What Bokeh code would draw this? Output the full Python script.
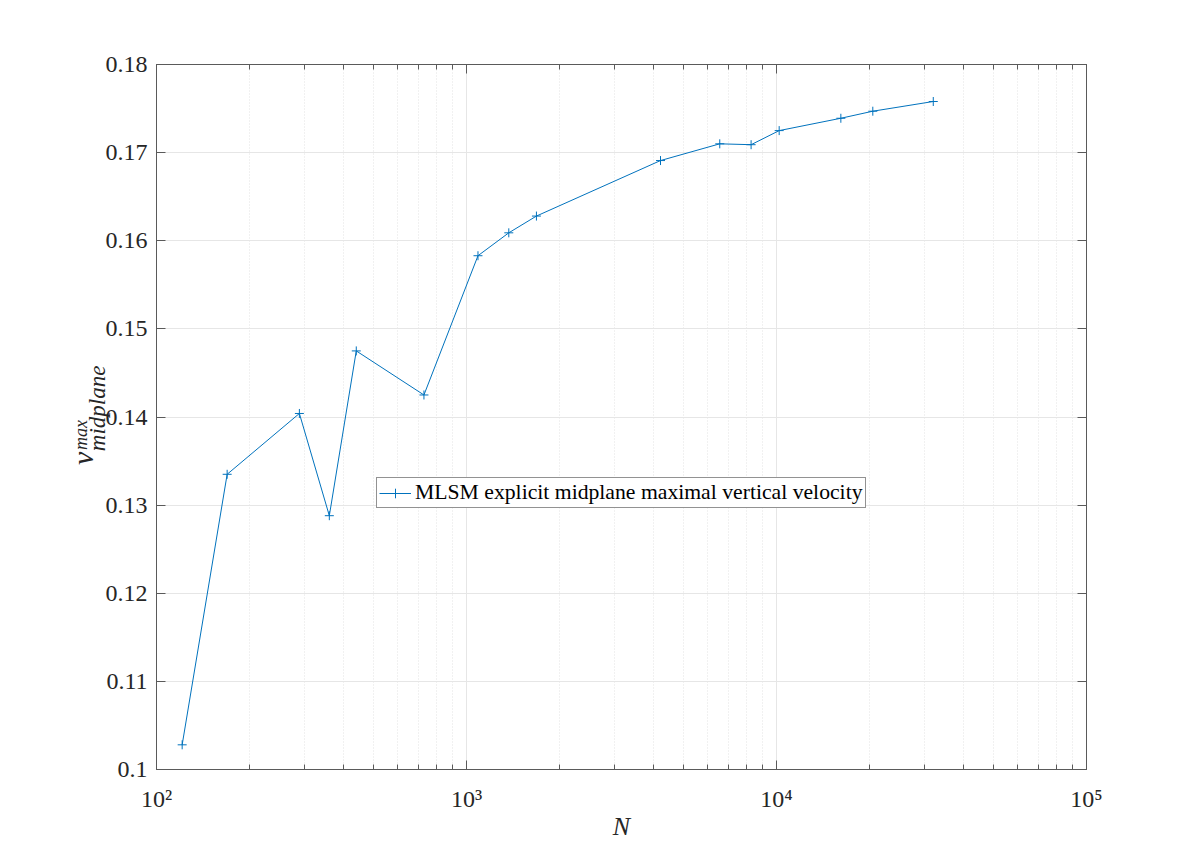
import math
from bokeh.plotting import figure
from bokeh.models import FixedTicker, LinearAxis, LogAxis, Range1d
from bokeh.embed import file_html
from bokeh.resources import INLINE

# ---- data ----
N = [121, 169, 289, 361, 441, 729, 1089, 1369, 1681, 4225, 6561, 8281, 10201, 16129, 20449, 32041]
V = [0.1028, 0.1335, 0.1404, 0.1288, 0.1475, 0.1425, 0.1583, 0.1609, 0.1628,
     0.1691, 0.1710, 0.1709, 0.1725, 0.1739, 0.1747, 0.1758]
series_name = "MLSM explicit midplane maximal vertical velocity"
x_major = [100, 1000, 10000, 100000]
x_labels = {100: "10²", 1000: "10³", 10000: "10⁴", 100000: "10⁵"}
y_major = [0.10, 0.11, 0.12, 0.13, 0.14, 0.15, 0.16, 0.17, 0.18]
y_labels = ["0.1", "0.11", "0.12", "0.13", "0.14", "0.15", "0.16", "0.17", "0.18"]
y_label_base, y_label_sup, y_label_sub = "v", "max", "midplane"

x_minor = [m * d for d in (100, 1000, 10000) for m in range(2, 10)]

BLUE = "#0072BD"
AX = "#262626"
FONT = "Liberation Serif"
NB = "\u00a0"

W, H = 1184, 848
ML, MT = 156, 64
MR = W - 1086
MB = H - 769

p = figure(width=W, height=H, x_axis_type="log", output_backend="svg",
           toolbar_location=None, x_range=Range1d(100, 100000),
           y_range=Range1d(0.1, 0.18),
           min_border_left=ML, min_border_right=MR, min_border_top=MT, min_border_bottom=MB)
p.background_fill_color = "white"
p.border_fill_color = "white"
p.outline_line_color = "#5a5a5a"
p.outline_line_width = 1

xt = FixedTicker(ticks=x_major, minor_ticks=x_minor)
yt = FixedTicker(ticks=y_major)

def style_axis(ax, labels=True):
    ax.axis_line_color = "#5a5a5a"
    ax.axis_line_width = 1
    ax.major_tick_line_color = "#5a5a5a"
    ax.minor_tick_line_color = "#5a5a5a"
    ax.major_tick_in = 9
    ax.major_tick_out = 0
    ax.minor_tick_in = 5
    ax.minor_tick_out = 0
    ax.major_label_text_font = FONT
    ax.major_label_text_font_size = "24px"
    ax.major_label_text_color = AX
    if not labels:
        ax.major_label_text_alpha = 0.0

def style_label(ax, size):
    ax.axis_label_text_font = FONT
    ax.axis_label_text_font_style = "italic"
    ax.axis_label_text_font_size = size
    ax.axis_label_text_color = AX

xa = p.xaxis[0]
xa.ticker = xt
xa.major_label_overrides = x_labels
style_axis(xa)
xa.major_label_standoff = 16
xa.axis_label = "N"
style_label(xa, "26px")
xa.axis_label_standoff = -3

# main y axis carries the subscript part of the label
ya = p.yaxis[0]
ya.ticker = yt
ya.major_label_overrides = {v: s for v, s in zip(y_major, y_labels)}
style_axis(ya)
ya.minor_tick_line_color = None
ya.major_label_standoff = 9
ya.axis_label = NB * 3 + y_label_sub
style_label(ya, "23px")
ya.axis_label_standoff = -7

# extra tick-less left axes carrying the base letter and the superscript
def label_axis(text, size, standoff):
    ax = LinearAxis(ticker=FixedTicker(ticks=[]), axis_label=text)
    ax.axis_line_color = None
    ax.major_tick_line_color = None
    ax.minor_tick_line_color = None
    ax.major_label_text_alpha = 0.0
    style_label(ax, size)
    ax.axis_label_standoff = standoff
    p.add_layout(ax, "left")
    return ax

label_axis(y_label_base + NB * 11, "30px", -17)
label_axis(y_label_sup + NB * 8, "18px", -28)

top = LogAxis(ticker=xt)
style_axis(top, labels=False)
top.major_label_text_font_size = "1px"
top.major_label_overrides = {t: "" for t in x_major}
p.add_layout(top, "above")

right = LinearAxis(ticker=yt)
style_axis(right, labels=False)
right.minor_tick_line_color = None
right.major_label_text_font_size = "1px"
right.major_label_overrides = {t: "" for t in y_major}
p.add_layout(right, "right")

# grids
p.xgrid.ticker = xt
p.xgrid.grid_line_color = "#e6e6e6"
p.xgrid.grid_line_width = 1
p.xgrid.minor_grid_line_color = "#e2e2e2"
p.xgrid.minor_grid_line_dash = "1 2"
p.xgrid.minor_grid_line_width = 1
p.ygrid.ticker = yt
p.ygrid.grid_line_color = "#e6e6e6"
p.ygrid.grid_line_width = 1

# series
p.line(N, V, line_color=BLUE, line_width=1, legend_label=series_name)
p.scatter(N, V, marker="cross", size=9, line_color=BLUE, line_width=1, legend_label=series_name)

lg = p.legend[0]
lg.location = (376 - ML, 769 - 508)
lg.border_line_color = AX
lg.border_line_width = 1
lg.background_fill_color = "white"
lg.background_fill_alpha = 1.0
lg.label_text_font = FONT
lg.label_text_font_size = "21.7px"
lg.label_text_color = "black"
lg.padding = 2
lg.margin = 0
lg.spacing = 0
lg.glyph_width = 32
lg.glyph_height = 24
lg.label_height = 24
lg.label_standoff = 4

open("out.html", "w").write(file_html(p, INLINE))
